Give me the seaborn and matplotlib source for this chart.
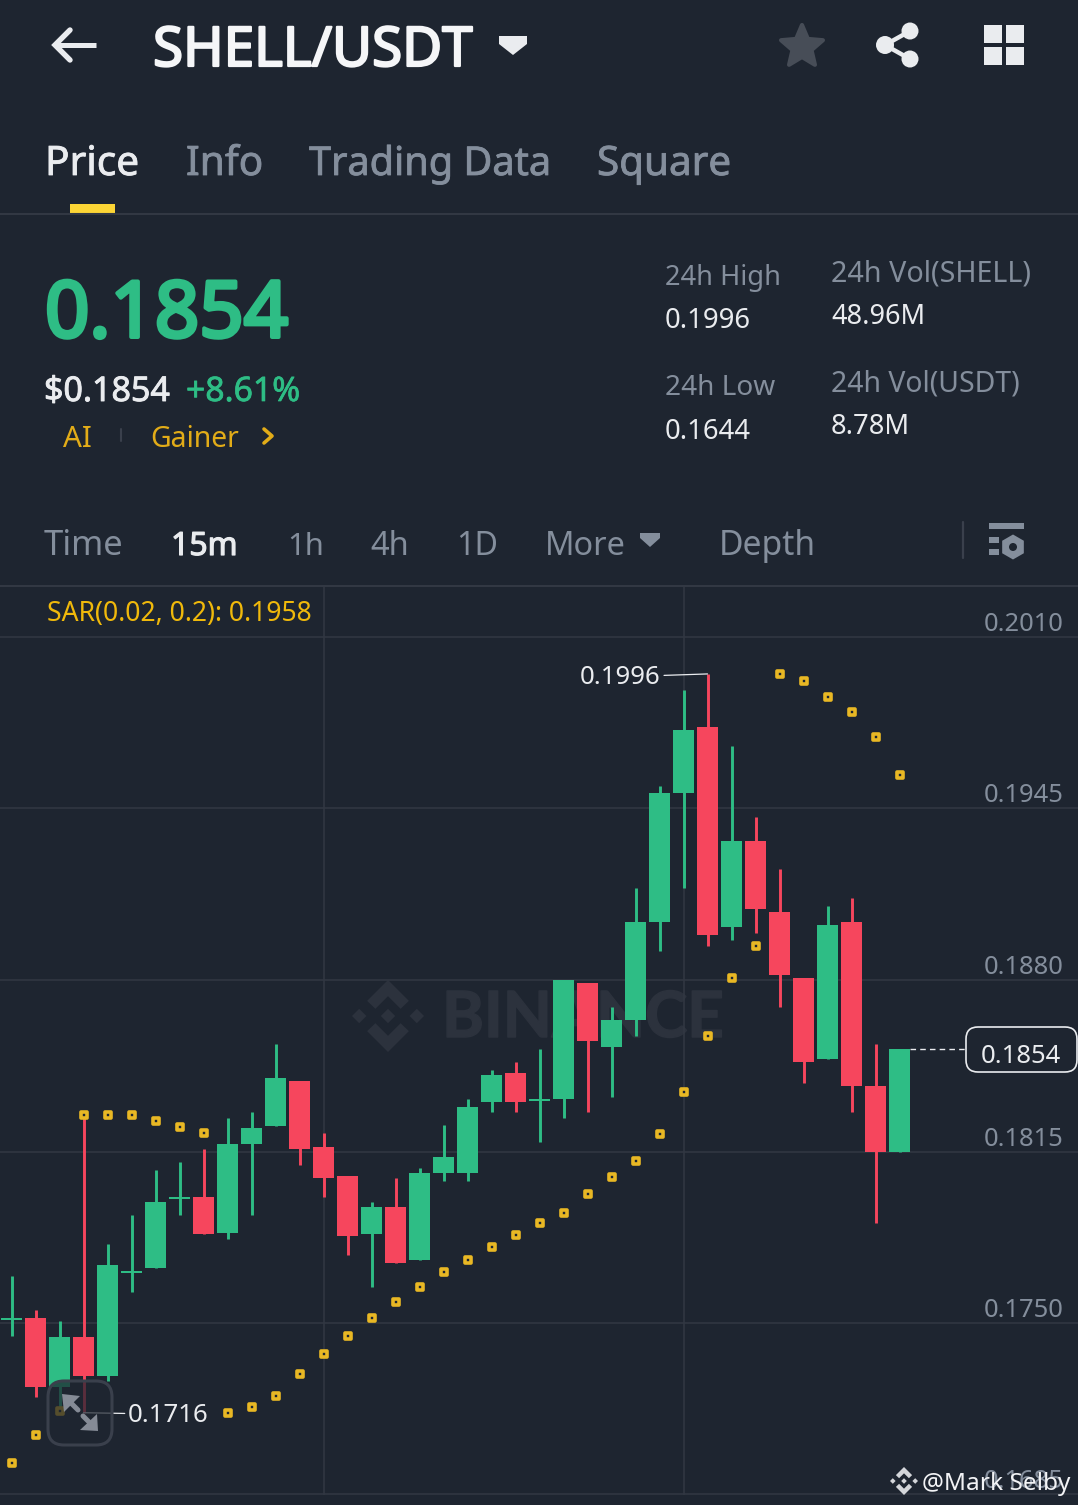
import numpy as np
import pandas as pd
import seaborn as sns
import matplotlib
matplotlib.use("Agg")
import matplotlib.pyplot as plt
import matplotlib.patheffects as pe
from matplotlib.patches import Polygon, Rectangle, Circle, FancyBboxPatch, RegularPolygon

# ---------- data ----------
opens = [0.17510, 0.17519, 0.17257, 0.17447, 0.17299, 0.17688, 0.17709, 0.17969, 0.17978, 0.17841,
         0.18178, 0.18247, 0.18417, 0.18167, 0.18057, 0.17837, 0.17940, 0.17739, 0.18069, 0.18069,
         0.18338, 0.18448, 0.18340, 0.18349, 0.18789, 0.18546, 0.18648, 0.19020, 0.19509, 0.19757,
         0.19001, 0.19327, 0.19058, 0.18808, 0.18499, 0.19018, 0.18398, 0.18148]
closes = [0.17520, 0.17257, 0.17447, 0.17299, 0.17720, 0.17698, 0.17959, 0.17979, 0.17837, 0.18178,
          0.18239, 0.18429, 0.18160, 0.18050, 0.17830, 0.17940, 0.17727, 0.18069, 0.18129, 0.18319,
          0.18440, 0.18338, 0.18350, 0.18800, 0.18569, 0.18648, 0.19020, 0.19509, 0.19748, 0.18971,
          0.19327, 0.19069, 0.18819, 0.18489, 0.19008, 0.18398, 0.18148, 0.18540]
highs = [0.17678, 0.17549, 0.17508, 0.18288, 0.17799, 0.17909, 0.18080, 0.18110, 0.18160, 0.18277,
         0.18300, 0.18557, 0.18417, 0.18220, 0.18057, 0.17959, 0.18050, 0.18088, 0.18250, 0.18349,
         0.18459, 0.18489, 0.18539, 0.18800, 0.18789, 0.18698, 0.19149, 0.19537, 0.19899, 0.19960,
         0.19688, 0.19418, 0.19221, 0.18808, 0.19080, 0.19111, 0.18557, 0.18540]
lows = [0.17451, 0.17220, 0.17182, 0.17160, 0.17280, 0.17618, 0.17709, 0.17909, 0.17837, 0.17818,
        0.17908, 0.18247, 0.18099, 0.17978, 0.17758, 0.17636, 0.17727, 0.17739, 0.18038, 0.18038,
        0.18300, 0.18300, 0.18186, 0.18277, 0.18300, 0.18357, 0.18588, 0.18910, 0.19149, 0.18929,
        0.18950, 0.18978, 0.18698, 0.18408, 0.18499, 0.18300, 0.17879, 0.18148]
sar = [0.16969, 0.17076, 0.17167, 0.18288, 0.18288, 0.18288, 0.18266, 0.18243, 0.18220, 0.17159,
       0.17182, 0.17223, 0.17307, 0.17383, 0.17451, 0.17519, 0.17580, 0.17636, 0.17693, 0.17739,
       0.17788, 0.17834, 0.17879, 0.17917, 0.17989, 0.18053, 0.18114, 0.18216, 0.18376, 0.18588,
       0.18808, 0.18929, 0.19958, 0.19933, 0.19873, 0.19814, 0.19721, 0.19577]
y_ticks = [0.2010, 0.1945, 0.1880, 0.1815, 0.1750, 0.1685]
y_tick_labels = ["0.2010", "0.1945", "0.1880", "0.1815", "0.1750", "0.1685"]
v_grid_candles = [13, 28]
last_price = 0.1854

# ---------- colours ----------
BG = "#1e2530"
GRID = "#323843"
GREEN = "#2ebd85"
RED = "#f6465d"
YEL = "#f0b90b"
SARC = "#e9b824"
TAB = "#fcd535"
GREY = "#848e9c"
WHITE = "#eaecef"
GOLD = "#e2ac18"

sns.set_theme(style="dark")
plt.rcParams["font.family"] = ["Noto Sans", "DejaVu Sans"]
W, H = 1078, 1505
fig = plt.figure(figsize=(W / 100, H / 100), dpi=100, facecolor=BG)
rend = fig.canvas.get_renderer()


def pixel_axes(z):
    a = fig.add_axes([0, 0, 1, 1], zorder=z)
    a.set_xlim(0, W)
    a.set_ylim(H, 0)
    a.axis("off")
    a.patch.set_alpha(0)
    return a


bg = pixel_axes(0)
ui = pixel_axes(2)

# ---------- chart axes (pixel band 587..1495) ----------
top_px, bot_px = 587, 1495
ax = fig.add_axes([0, 1 - bot_px / H, 1, (bot_px - top_px) / H], zorder=1)
ax.patch.set_alpha(0)
ppx = 0.0065 / 171.5
ax.set_ylim(0.2010 - (bot_px - 637) * ppx, 0.2010 + (637 - top_px) * ppx)
ax.set_xlim(-11.5 / 24, (W - 11.5) / 24)
for s in ax.spines.values():
    s.set_visible(False)
ax.set_xticks(v_grid_candles)
ax.set_xticklabels([])
ax.set_yticks(y_ticks)
ax.set_yticklabels(y_tick_labels)
ax.grid(True, color=GRID, lw=1.1)
ax.set_axisbelow(True)
ax.yaxis.tick_right()
ax.tick_params(axis="y", length=0, pad=-10.5, labelsize=18.4, labelcolor=GREY)
ax.tick_params(axis="x", length=0)
for lab in ax.get_yticklabels():
    lab.set_ha("right")
    lab.set_va("bottom")

df = pd.DataFrame({"i": np.arange(len(opens)), "o": opens, "c": closes, "h": highs, "l": lows, "sar": sar})
df["color"] = np.where(df.c >= df.o, GREEN, RED)
ax.vlines(df.i, df.l, df.h, colors=df.color, lw=2.1, zorder=3)
ax.bar(df.i, (df.c - df.o).abs(), bottom=df[["o", "c"]].min(axis=1), width=21 / 24,
       color=df.color, linewidth=0, zorder=4)
sns.scatterplot(data=df, x="i", y="sar", marker="s", s=22, color=BG, edgecolor=SARC,
                linewidth=2.6, ax=ax, legend=False, zorder=5)
ax.set_xlabel("")
ax.set_ylabel("")

# high / low call-outs
ax.annotate("0.1996", xy=(29, 0.1996), xytext=(580, H - 678), textcoords="figure pixels",
            color=WHITE, fontsize=18.6, va="center", ha="left", zorder=6,
            arrowprops=dict(arrowstyle="-", color=WHITE, lw=0.9, shrinkA=0, shrinkB=0, relpos=(1, 0.6)))
ax.annotate("0.1716", xy=(3, 0.1716), xytext=(128, H - 1416), textcoords="figure pixels",
            color=WHITE, fontsize=18.6, va="center", ha="left", zorder=6,
            arrowprops=dict(arrowstyle="-", color=WHITE, lw=0.9, shrinkA=0, shrinkB=0, relpos=(0, 0.6)))
# last price guide
ax.hlines(last_price, 37.45, 39.75, colors=WHITE, lw=1.0, linestyles=(0, (4, 3)), zorder=3)


# ---------- text helper ----------
def T(a, x, base, s, width=None, px=26, color=WHITE, weight="normal", ha="left", stroke=0, **kw):
    t = a.text(x, base, s, color=color, fontsize=px * 0.72, fontweight=weight, ha=ha, va="baseline", **kw)
    if width:
        w = t.get_window_extent(rend).width
        t.set_fontsize(px * 0.72 * (width - stroke) / w)
    if stroke:
        t.set_path_effects([pe.withStroke(linewidth=stroke * 0.72, foreground=color)])
    return t


def logo(a, cx, cy, R, color, z=2):
    d = 0.2 * R
    for ox in (-0.8 * R, 0, 0.8 * R):
        a.add_patch(Polygon([(cx + ox - d, cy), (cx + ox, cy - d), (cx + ox + d, cy), (cx + ox, cy + d)],
                            fc=color, ec="none", zorder=z))
    for sg in (-1, 1):
        a.add_patch(Polygon([(cx, cy + sg * R), (cx + 0.58 * R, cy + sg * 0.42 * R), (cx + 0.35 * R, cy + sg * 0.2 * R),
                             (cx, cy + sg * 0.55 * R), (cx - 0.35 * R, cy + sg * 0.2 * R),
                             (cx - 0.58 * R, cy + sg * 0.42 * R)], fc=color, ec="none", zorder=z))


# ---------- watermark ----------
logo(bg, 388, 1016, 36, "#2c323d")
T(bg, 442, 1037, "BINANCE", width=283, px=58, color="#2c323d", weight="bold", family="Lato", stroke=1.5)

# ---------- header ----------
ui.plot([56, 96], [45, 45], color=WHITE, lw=3.6, solid_capstyle="butt")
ui.plot([70, 55, 70], [30, 45, 60], color=WHITE, lw=3.9, solid_joinstyle="miter")
T(ui, 153, 66, "SHELL/USDT", width=322, px=53, color="#f5f6f8", stroke=2.2)
ui.add_patch(Polygon([(499, 36), (527, 36), (527, 44), (513, 55), (499, 44)], fc=WHITE, ec="none"))

star = [(802 + (22 if k % 2 == 0 else 10) * np.sin(k * np.pi / 5),
         47 - (22 if k % 2 == 0 else 10) * np.cos(k * np.pi / 5)) for k in range(10)]
ui.add_patch(Polygon(star, fc="#474d57", ec="#474d57", lw=3, joinstyle="round"))
ui.plot([910, 885, 910], [31, 45, 59], color=WHITE, lw=3.2)
for cx, cy, r in [(885, 45, 9), (910, 31, 8.5), (910, 59, 8.5)]:
    ui.add_patch(Circle((cx, cy), r, fc=WHITE, ec="none"))
for x0 in (984, 1006):
    for y0 in (25, 47):
        ui.add_patch(Rectangle((x0, y0), 18, 18, fc=WHITE, ec="none"))

# tabs
T(ui, 45, 175, "Price", width=95, px=42, color=WHITE, stroke=0.8)
T(ui, 186, 175, "Info", width=78, px=42, color=GREY, stroke=0.8)
T(ui, 309, 175, "Trading Data", width=243, px=42, color=GREY, stroke=0.8)
T(ui, 597, 175, "Square", width=135, px=42, color=GREY, stroke=0.8)
ui.add_patch(Rectangle((70, 204), 45, 9, fc=TAB, ec="none"))
ui.plot([0, W], [214, 214], color=GRID, lw=1.5)

# price block
T(ui, 45, 337, "0.1854", width=247, px=84, color=GREEN, stroke=4)
T(ui, 44, 401, "$0.1854", width=127, px=35, color=WHITE, stroke=0.9)
T(ui, 186, 401, "+8.61%", width=115, px=35, color=GREEN, stroke=0.7)
T(ui, 63, 447, "AI", width=29, px=30, color=GOLD)
ui.plot([121, 121], [429, 441], color="#3a404c", lw=1.5)
T(ui, 150, 447, "Gainer", width=89, px=30, color=GOLD)
ui.plot([264, 272, 264], [429, 436, 443], color=GOLD, lw=2.6)

# stats
T(ui, 665, 285, "24h High", width=116, px=29, color=GREY)
T(ui, 665, 328, "0.1996", width=86, px=29, color=WHITE)
T(ui, 665, 395, "24h Low", width=110, px=29, color=GREY)
T(ui, 665, 439, "0.1644", width=86, px=29, color=WHITE)
T(ui, 831, 282, "24h Vol(SHELL)", width=200, px=29, color=GREY)
T(ui, 831, 324, "48.96M", width=94, px=29, color=WHITE)
T(ui, 831, 391, "24h Vol(USDT)", width=189, px=29, color=GREY)
T(ui, 831, 434, "8.78M", width=79, px=29, color=WHITE)

# interval row
T(ui, 44, 555, "Time", width=80, px=35, color=GREY)
T(ui, 171, 555, "15m", width=68, px=35, color=WHITE, stroke=1.2)
T(ui, 287, 555, "1h", width=37, px=35, color=GREY)
T(ui, 370, 555, "4h", width=39, px=35, color=GREY)
T(ui, 456, 555, "1D", width=42, px=35, color=GREY)
T(ui, 545, 555, "More", width=81, px=35, color=GREY)
ui.add_patch(Polygon([(640, 533), (660, 533), (660, 538), (650, 547), (640, 538)], fc=GREY, ec="none"))
T(ui, 719, 555, "Depth", width=97, px=35, color=GREY)
ui.plot([963, 963], [522, 558], color="#3a404c", lw=1.6)
ui.add_patch(Rectangle((989, 523), 35, 6, fc=GREY, ec="none"))
ui.add_patch(Rectangle((989, 537), 10, 6, fc=GREY, ec="none"))
ui.add_patch(Rectangle((989, 549), 10, 6, fc=GREY, ec="none"))
ui.add_patch(RegularPolygon((1013, 547), 6, radius=12.5, fc=GREY, ec="none"))
ui.add_patch(Circle((1013, 547), 4, fc=BG, ec="none"))
ui.plot([0, W], [586, 586], color=GRID, lw=1.5)

# legend line
T(ui, 47, 621, "SAR(0.02, 0.2): 0.1958", width=265, px=26, color=YEL)

# last price tag
ui.add_patch(FancyBboxPatch((972, 1033), 99, 33, boxstyle="round,pad=6,rounding_size=12",
                            fc=BG, ec=WHITE, lw=1.2))
T(ui, 981, 1063, "0.1854", width=80, px=26, color=WHITE)

# expand button
ui.add_patch(FancyBboxPatch((62, 1395), 36, 36, boxstyle="round,pad=14,rounding_size=16",
                            fc=BG, alpha=0.72, ec="none"))
ui.add_patch(FancyBboxPatch((62, 1395), 36, 36, boxstyle="round,pad=14,rounding_size=16",
                            fc="none", ec="#3a404c", lw=2.2))
ui.add_patch(Polygon([(62, 1394), (80, 1396), (64, 1412)], fc="#858b96", ec="none"))
ui.plot([70, 78], [1402, 1410], color="#858b96", lw=3.6)
ui.add_patch(Polygon([(98, 1431), (80, 1430), (97, 1414)], fc="#858b96", ec="none"))
ui.plot([90, 83], [1423, 1416], color="#858b96", lw=3.6)

# credit
logo(ui, 904, 1481, 14, "#d4d6da")
T(ui, 922, 1490, "@Mark Selby", width=148, px=27, color="#f2f3f5")

fig.savefig("out.png", dpi=100, facecolor=BG)
